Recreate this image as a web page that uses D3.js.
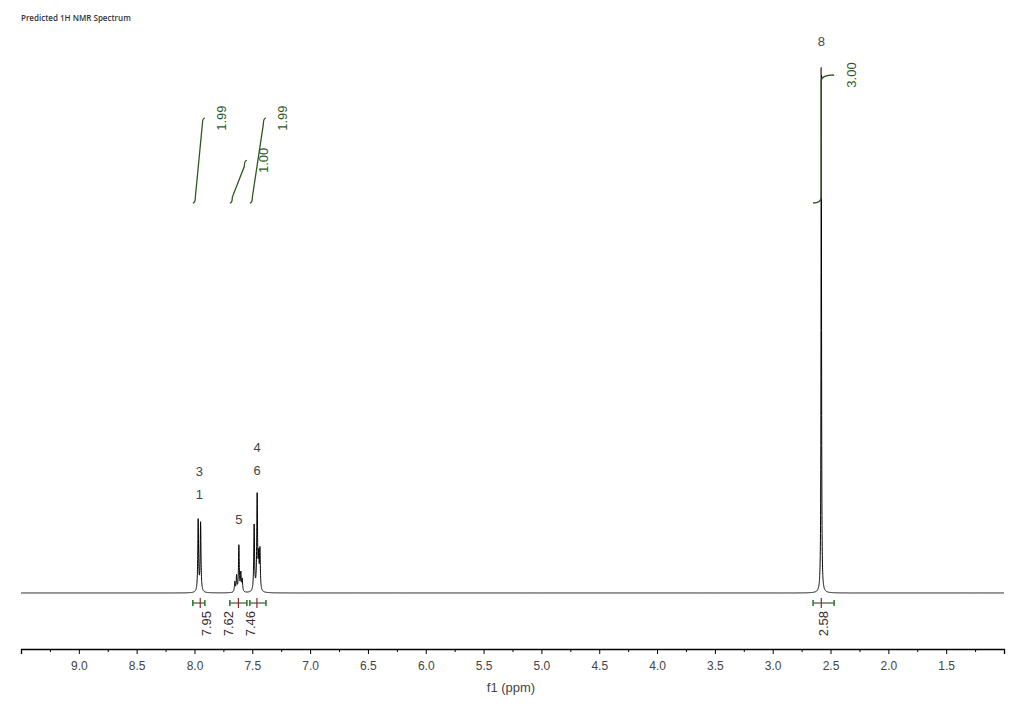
<!DOCTYPE html>
<html>
<head>
<meta charset="utf-8">
<script src="https://cdn.jsdelivr.net/npm/d3@7"></script>
<style>
  html, body { margin: 0; padding: 0; background: #fff; }
  svg { display: block; }
</style>
</head>
<body>
<svg id="chart" width="1024" height="724"></svg>
<script>
// ---------------- data ----------------
const title = "Predicted 1H NMR Spectrum";
const axisLabel = "f1 (ppm)";

// individual spectral lines: position (ppm), relative height (tallest = 100), half-width (ppm)
const linePpm    = [7.968, 7.947, 7.651, 7.636, 7.616, 7.599, 7.587, 7.484, 7.458, 7.445, 7.434, 2.580];
const lineHeight = [13.7,  13.1,  1.9,   3.0,   8.8,   3.4,   2.3,   12.6,  18.1,  5.9,   7.6,   100];
const lineWidth  = [0.004, 0.004, 0.004, 0.004, 0.004, 0.004, 0.004, 0.004, 0.004, 0.004, 0.004, 0.0025];

// multiplet / peak-group labels
const peakLabelPpm = [7.95, 7.62, 7.46, 2.58];
const peakLabelTxt = ["7.95", "7.62", "7.46", "2.58"];
const atomLabelPpm = [7.957, 7.616, 7.458, 2.580];
const atomLabelTop = [13.7, 8.8, 18.1, 100];
const atomLabels   = [["1", "3"], ["5"], ["6", "4"], ["8"]];

// integrals
const integralFrom  = [8.014, 7.694, 7.521, 2.651];
const integralTo    = [7.910, 7.547, 7.382, 2.469];
const integralValue = [1.99, 1.00, 1.99, 3.00];

// axis
const majorTicks = [9.0, 8.5, 8.0, 7.5, 7.0, 6.5, 6.0, 5.5, 5.0, 4.5, 4.0, 3.5, 3.0, 2.5, 2.0, 1.5];
const minorTicks = [9.25, 8.75, 8.25, 7.75, 7.25, 6.75, 6.25, 5.75, 5.25, 4.75, 4.25, 3.75, 3.25, 2.75, 2.25, 1.75, 1.25];
const ppmDomain = [9.5, 1.0];

// ---------------- layout ----------------
const svg = d3.select("#chart");
const x = d3.scaleLinear().domain(ppmDomain).range([21, 1004]);
const y = d3.scaleLinear().domain([0, 100]).range([593, 68]);
const yInt = d3.scaleLinear().domain([0, 3]).range([203, 75]);
const axisY = 649;

// title
svg.append("text")
  .attr("x", 21).attr("y", 21)
  .attr("font-family", "'Open Sans', 'DejaVu Sans', sans-serif")
  .attr("font-size", 8).attr("font-weight", 600)
  .attr("fill", "#333")
  .text(title);

// ---------------- spectrum ----------------
function intensity(p) {
  let s = 0;
  for (let i = 0; i < linePpm.length; i++) {
    const d = (p - linePpm[i]) / lineWidth[i];
    s += lineHeight[i] / (1 + d * d);
  }
  return s;
}
let samples = d3.range(ppmDomain[1], ppmDomain[0] + 1e-9, 0.0005).concat(linePpm);
samples.sort((a, b) => b - a);
const specPts = samples.map(p => [p, intensity(p)]);

svg.append("path")
  .datum(specPts)
  .attr("fill", "none")
  .attr("stroke", "#000")
  .attr("stroke-width", 1)
  .attr("d", d3.line().x(d => x(d[0])).y(d => y(d[1])));

// small red marker on the top of the tallest peak
svg.append("line")
  .attr("x1", x(2.58)).attr("x2", x(2.58))
  .attr("y1", y(100) - 1).attr("y2", y(100) + 7)
  .attr("stroke", "#c0504d").attr("stroke-width", 1.2);

// atom labels above peaks
const atomG = svg.append("g")
  .attr("font-family", "'Liberation Sans', Arial, sans-serif")
  .attr("font-size", 13).attr("fill", "#444").attr("text-anchor", "middle");
atomLabels.forEach((labs, i) => {
  labs.forEach((t, j) => {
    atomG.append("text")
      .attr("x", x(atomLabelPpm[i]))
      .attr("y", y(atomLabelTop[i]) - 27 - j * 23)
      .attr("dominant-baseline", "central")
      .text(t);
  });
});

// ---------------- integrals ----------------
const intColor = "#2d5a1e";
const intG = svg.append("g");
integralValue.forEach((v, i) => {
  const x0 = x(integralFrom[i]), x1 = x(integralTo[i]);
  const inside = linePpm.map((p, k) => k).filter(k => linePpm[k] <= integralFrom[i] && linePpm[k] >= integralTo[i]);
  const xs = inside.map(k => x(linePpm[k]));
  const spread = d3.max(xs) - d3.min(xs);
  const cx = d3.sum(inside, k => x(linePpm[k]) * lineHeight[k]) / d3.sum(inside, k => lineHeight[k]);
  const half = spread > 0 ? (spread + 7) / 2 : 0;
  const xr0 = Math.max(x0 + 2.5, cx - half), xr1 = Math.min(x1 - 2.5, cx + half);
  const yb = yInt(0), yt = yInt(v);
  const hook = 6;
  const path = `M${x0},${yb} Q${xr0},${yb} ${xr0},${yb - hook} L${xr1},${yt + hook} Q${xr1},${yt} ${x1},${yt}`;
  intG.append("path").attr("d", path)
    .attr("fill", "none").attr("stroke", intColor).attr("stroke-width", 1.3);
  intG.append("text")
    .attr("transform", `translate(${x1 + 17},${yt}) rotate(-90)`)
    .attr("text-anchor", "middle").attr("dominant-baseline", "central")
    .attr("font-family", "'Liberation Sans', Arial, sans-serif")
    .attr("font-size", 13).attr("fill", intColor)
    .text(v.toFixed(2));

  // integration bar below the baseline
  const by = 603;
  intG.append("line").attr("x1", x0).attr("x2", x1).attr("y1", by).attr("y2", by)
    .attr("stroke", "#3d5a3d").attr("stroke-width", 1.2);
  [x0, x1].forEach(xx => intG.append("line")
    .attr("x1", xx).attr("x2", xx).attr("y1", by - 3).attr("y2", by + 3)
    .attr("stroke", "#2e7d32").attr("stroke-width", 1.6));
  intG.append("line").attr("x1", x(peakLabelPpm[i])).attr("x2", x(peakLabelPpm[i]))
    .attr("y1", by - 5).attr("y2", by + 5)
    .attr("stroke", "#8b2a2a").attr("stroke-width", 1.2);
});

// peak ppm labels (spread when crowded)
const px = peakLabelPpm.map(p => x(p));
const groups = [];
px.forEach((v, i) => {
  const g = groups[groups.length - 1];
  if (g && v - px[g[g.length - 1]] < 60) g.push(i); else groups.push([i]);
});
const labelX = [];
groups.forEach(g => {
  const m = d3.mean(g, i => px[i]) + (g.length > 1 ? -3 : 2.5);
  g.forEach((i, j) => { labelX[i] = m + (j - (g.length - 1) / 2) * 22; });
});
const plG = svg.append("g")
  .attr("font-family", "'Liberation Sans', Arial, sans-serif")
  .attr("font-size", 13).attr("fill", "#3a2a2a");
peakLabelTxt.forEach((t, i) => {
  plG.append("text")
    .attr("transform", `translate(${labelX[i]},${611}) rotate(-90)`)
    .attr("text-anchor", "end").attr("dominant-baseline", "central")
    .text(t);
});

// ---------------- axis ----------------
const axisG = svg.append("g").attr("transform", `translate(0,${axisY})`);
const axisMajor = d3.axisBottom(x).tickValues(majorTicks).tickSize(5).tickPadding(7)
  .tickFormat(d3.format(".1f"));
axisG.call(axisMajor);
axisG.select(".domain").attr("stroke", "#000").attr("stroke-width", 1.3);
axisG.selectAll(".tick line").attr("stroke", "#000");
axisG.selectAll(".tick text")
  .attr("font-family", "'Liberation Sans', Arial, sans-serif")
  .attr("font-size", 12).attr("fill", "#444");
const minorG = svg.append("g").attr("transform", `translate(0,${axisY})`);
minorG.call(d3.axisBottom(x).tickValues(minorTicks).tickSize(3).tickFormat(""));
minorG.select(".domain").remove();
minorG.selectAll(".tick line").attr("stroke", "#000");

svg.append("text")
  .attr("x", 511).attr("y", 692)
  .attr("text-anchor", "middle")
  .attr("font-family", "'Liberation Sans', Arial, sans-serif")
  .attr("font-size", 13).attr("fill", "#444")
  .text(axisLabel);
</script>
</body>
</html>
